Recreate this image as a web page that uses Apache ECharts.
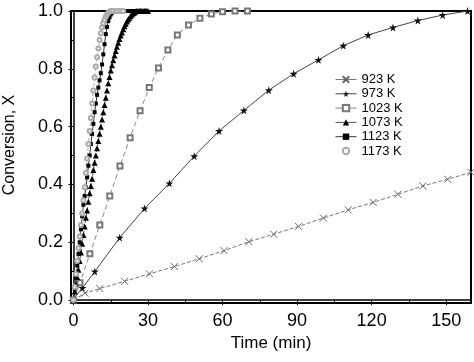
<!DOCTYPE html>
<html><head><meta charset="utf-8">
<script src="https://cdn.jsdelivr.net/npm/echarts@6/dist/echarts.min.js"></script>
<style>html,body{margin:0;padding:0;background:#fff}#c{width:474px;height:362px}</style>
</head><body><div id="c"></div>
<script>
// ---- data ----
const xTicks = [0, 30, 60, 90, 120, 150];
const xMinorTicks = [15, 45, 75, 105, 135];
const yTicks = [0, 0.2, 0.4, 0.6, 0.8, 1.0];
const yMinorTicks = [0.1, 0.3, 0.5, 0.7, 0.9];
const seriesNames = ['923 K', '973 K', '1023 K', '1073 K', '1123 K', '1173 K'];

const t923 = [0, 4.6, 10.6, 20.6, 30.6, 40.6, 50.6, 60.6, 70.6, 80.6, 90.6, 100.6, 110.6, 120.6, 130.6, 140.6, 150.6, 160];
const x923 = [0, 0.024, 0.040, 0.065, 0.091, 0.116, 0.143, 0.171, 0.202, 0.228, 0.255, 0.284, 0.312, 0.338, 0.366, 0.395, 0.418, 0.442];

const t973 = [0, 3.6, 8.6, 18.6, 28.6, 38.6, 48.6, 58.6, 68.6, 78.6, 88.6, 98.6, 108.6, 118.6, 128.6, 138.6, 148.6, 158.6];
const x973 = [0.005, 0.042, 0.099, 0.216, 0.317, 0.404, 0.498, 0.585, 0.656, 0.726, 0.783, 0.831, 0.880, 0.917, 0.943, 0.967, 0.986, 1.0];

const t1023 = [0, 2.6, 6.6, 10.6, 14.6, 18.7, 22.8, 26.8, 30.5, 34.2, 38, 41.8, 46.3, 50.9, 55.5, 60, 65, 70];
const x1023 = [0, 0.06, 0.16, 0.26, 0.36, 0.464, 0.562, 0.655, 0.735, 0.803, 0.865, 0.917, 0.952, 0.975, 0.99, 0.997, 1, 1];

const t1073 = [0,0.5,1,1.5,2,2.5,3,3.5,4,4.5,5,5.5,6,6.5,7,7.5,8,8.5,9,9.5,10,10.5,11,11.5,12,12.5,13,13.5,14,14.5,15,15.5,16,16.5,17,17.5,18,18.5,19,19.5,20,20.5,21,21.5,22,22.5,23,23.5,24,24.5,25,25.5,26,26.5,27,27.5,28,28.5,29,29.5,30];
const x1073 = [0,0.03,0.055,0.08,0.105,0.135,0.165,0.195,0.225,0.255,0.285,0.31,0.34,0.37,0.395,0.42,0.45,0.475,0.5,0.525,0.55,0.575,0.6,0.625,0.65,0.675,0.7,0.725,0.75,0.772,0.794,0.812,0.83,0.846,0.862,0.876,0.89,0.903,0.915,0.926,0.937,0.947,0.956,0.964,0.971,0.977,0.983,0.988,0.992,0.995,0.998,1,1,1,1,1,1,1,1,1,1];

const t1123 = [0,0.5,1,1.5,2,2.5,3,3.5,4,4.5,5,5.5,6,6.5,7,7.5,8,8.5,9,9.5,10,10.5,11,11.5,12,12.5,13,13.5,14,14.5,15,15.5,16,16.5,17,17.5,18,18.5,19,19.5,20,21,22,23,24,25];
const x1123 = [0,0.04,0.08,0.12,0.16,0.2,0.245,0.29,0.33,0.36,0.39,0.425,0.465,0.5,0.54,0.575,0.61,0.65,0.68,0.71,0.735,0.76,0.785,0.815,0.85,0.885,0.92,0.945,0.965,0.978,0.988,0.994,0.998,1,1,1,1,1,1,1,1,1,1,1,1,1];

const t1173 = [0,0.5,1,1.5,2,2.5,3,3.5,4,4.5,5,5.5,6,6.5,7,7.5,8,8.5,9,9.5,10,10.5,11,11.5,12,12.5,13,13.5,14,14.5,15,16,17,18,19,20];
const x1173 = [0,0.045,0.09,0.135,0.18,0.22,0.26,0.3,0.345,0.39,0.44,0.49,0.54,0.585,0.63,0.68,0.725,0.77,0.808,0.84,0.87,0.9,0.923,0.943,0.958,0.97,0.98,0.988,0.994,0.997,1,1,1,1,1,1];

// ---- chart ----
const pair = (t, x) => t.map((v, i) => [v, x[i]]);
const STAR = 'path://M50,0 L61,35 L98,35 L68,57 L79,91 L50,70 L21,91 L32,57 L2,35 L39,35 Z';
const CROSS = 'path://M0,0 L10,10 M10,0 L0,10';
const FONT = '"Liberation Sans", Arial, sans-serif';

const chart = echarts.init(document.getElementById('c'), null, {renderer: 'canvas'});
chart.setOption({
  animation: false,
  backgroundColor: '#fff',
  grid: {left: 71, right: 3, top: 11, bottom: 59, show: true, borderColor: '#000', borderWidth: 2,
    containLabel: false, outerBoundsMode: 'none'},
  xAxis: [{
    type: 'value', min: -1, max: 160, position: 'bottom',
    name: 'Time (min)', nameLocation: 'middle', nameGap: 30,
    nameTextStyle: {fontFamily: FONT, fontSize: 17, color: '#000'},
    axisLine: {show: true, lineStyle: {color: '#000', width: 1.5}},
    axisTick: {show: true, inside: false, length: 5, customValues: xTicks, lineStyle: {color: '#000'}},
    axisLabel: {customValues: xTicks, margin: 9, fontFamily: FONT, fontSize: 18, color: '#000'},
    splitLine: {show: false}
  }, {
    type: 'value', min: -1, max: 160, position: 'bottom',
    axisLine: {show: false},
    axisTick: {show: true, length: 3, customValues: xMinorTicks, lineStyle: {color: '#000'}},
    axisLabel: {show: false}, splitLine: {show: false}
  }],
  yAxis: [{
    type: 'value', min: -0.01, max: 1.0, position: 'left',
    name: 'Conversion, X', nameLocation: 'middle', nameGap: 53,
    nameTextStyle: {fontFamily: FONT, fontSize: 16, color: '#000', padding: [0, 0, 0, 24]},
    axisLine: {show: true, lineStyle: {color: '#000', width: 1.5}},
    axisTick: {show: true, length: 5, customValues: yTicks, lineStyle: {color: '#000'}},
    axisLabel: {customValues: yTicks, margin: 8, fontFamily: FONT, fontSize: 18, color: '#000',
      formatter: v => v.toFixed(1)},
    splitLine: {show: false}
  }, {
    type: 'value', min: -0.01, max: 1.0, position: 'left',
    axisLine: {show: false},
    axisTick: {show: true, length: 3, customValues: yMinorTicks, lineStyle: {color: '#000'}},
    axisLabel: {show: false}, splitLine: {show: false}
  }],
  legend: {
    orient: 'vertical', left: 335, top: 73, padding: 0, itemGap: 1.3,
    itemWidth: 21, itemHeight: 8,
    lineStyle: {type: 'solid', width: 1},
    textStyle: {fontFamily: FONT, fontSize: 13, color: '#000'},
    data: [seriesNames[0], seriesNames[1], seriesNames[2], seriesNames[3], seriesNames[4],
      {name: seriesNames[5], lineStyle: {opacity: 0}}]
  },
  series: [
    {name: seriesNames[0], type: 'line', data: pair(t923, x923), symbol: CROSS, symbolSize: 7,
      itemStyle: {color: '#666', borderColor: '#666', borderWidth: 1},
      lineStyle: {color: '#777', width: 1, type: [4, 2]}},
    {name: seriesNames[1], type: 'line', data: pair(t973, x973), symbol: STAR, symbolSize: 8,
      itemStyle: {color: '#111'}, lineStyle: {color: '#444', width: 1, type: 'solid'}},
    {name: seriesNames[2], type: 'line', data: pair(t1023, x1023), symbol: 'emptyRect', symbolSize: 5,
      itemStyle: {color: '#777', borderWidth: 1}, lineStyle: {color: '#888', width: 1, type: [5, 3]}},
    {name: seriesNames[3], type: 'line', data: pair(t1073, x1073), symbol: 'triangle', symbolSize: 6,
      itemStyle: {color: '#000'}, lineStyle: {color: '#555', width: 1, type: [4, 2]}},
    {name: seriesNames[4], type: 'line', data: pair(t1123, x1123), symbol: 'rect', symbolSize: 4,
      itemStyle: {color: '#000'}, lineStyle: {color: '#333', width: 1}},
    {name: seriesNames[5], type: 'line', data: pair(t1173, x1173), symbol: 'emptyCircle', symbolSize: 4,
      itemStyle: {color: '#aaa', borderWidth: 1}, lineStyle: {color: '#aaa', width: 1, type: [3, 2]}}
  ]
});
</script>
</body></html>
